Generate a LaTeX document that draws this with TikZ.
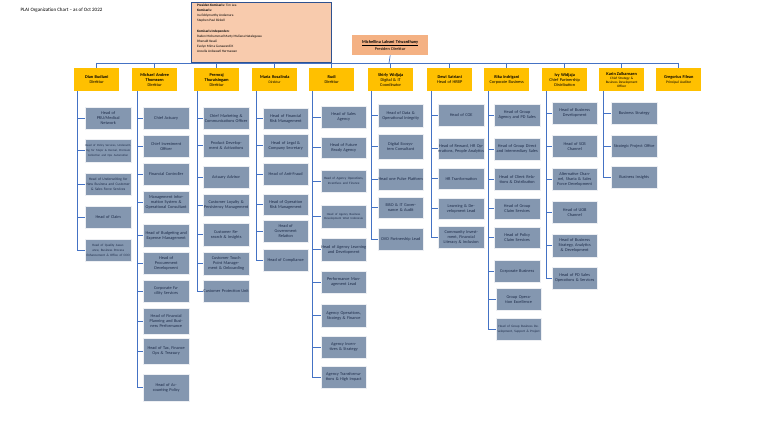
\documentclass[tikz,border=0pt]{standalone}
\usepackage{fontspec}
\setmainfont{Carlito}
\definecolor{ln}{HTML}{4472C4}
\definecolor{kf}{HTML}{8497B0}
\definecolor{kt}{HTML}{1F2D4A}
\definecolor{yl}{HTML}{FFC000}
\definecolor{pc}{HTML}{F8CBAD}
\definecolor{pd}{HTML}{F4B183}
\definecolor{bd}{HTML}{2F528F}
\tikzset{
 kid/.style={fill=kf,draw=white!85!kf,line width=0.4pt,inner sep=0pt,align=center,text=kt,font=\fontsize{4.3}{4.9}\selectfont},
 dir/.style={fill=yl,inner sep=0pt,align=center,text=black,font=\fontsize{4.3}{5}\selectfont,minimum width=45pt,minimum height=23pt,text width=45pt,anchor=north west},
 wire/.style={draw=ln,line width=0.7pt}
}
\newcommand\kid[6]{\node[kid,anchor=north west,minimum width=#3pt,text width=#3pt,minimum height=#5pt] (#1) at (#2,#4) {#6};}
\newcommand\tk[2]{\draw[wire] (#1 |- #2.west) -- (#2.west);}
\begin{document}
\begin{tikzpicture}[x=1pt,y=-1pt]
\useasboundingbox[fill=white] (0,0) rectangle (768,433);
\node[anchor=west,font=\fontsize{5}{6}\selectfont] (title) at (17,10) {PLAI Organization Chart -- as of Oct 2022};
% commissioners
\node[fill=pc,draw=bd,line width=0.7pt,anchor=north west,minimum width=140pt,minimum height=60pt,inner sep=0pt] (kom) at (191,2) {};
\node[anchor=north west,align=left,font=\fontsize{3.4}{5.1}\selectfont,inner sep=0pt] (komt) at (197,4) {\textbf{Presiden Komisaris:} Tim Lea\\ \textbf{Komisaris:}\\ Ira Eddymurthy Andamara\\ Stephen Paul Bickell\\[5.1pt] \textbf{Komisaris Independen:}\\ Raden Mohammad Marty Muliana Natalegawa\\ Rhenald Kasali\\ Evelyn Mirna Gunawardi K\\ Ancella Anitawati Hermawan};
\node[fill=pd,anchor=north west,minimum width=76pt,minimum height=20pt,text width=76pt,inner sep=0pt,align=center,font=\fontsize{4.3}{5.2}\selectfont] (pres) at (352,35) {\underline{\textbf{Michellina Laksmi Triwardhany}}\\Presiden Direktur};
% directors
\node[dir] (d1) at (74,68) {\textbf{Dian Budiani}\\Direktur};
\node[dir] (d2) at (132,68) {\textbf{Michael Andree}\\\textbf{Thomssen}\\Direktur};
\node[dir] (d3) at (194,68) {\textbf{Premraj}\\\textbf{Thuraisingam}\\Direktur};
\node[dir] (d4) at (252,68) {\textbf{Maria Rosalinda}\\{\fontsize{3.6}{4.3}\selectfont Direktur}};
\node[dir] (d5) at (309,68) {\textbf{Rudi}\\Direktur};
\node[dir] (d6) at (368,68) {\textbf{Shirly Widjaja}\\Digital \& IT\\Coordinator};
\node[dir] (d7) at (427,68) {\textbf{Dewi Satriani}\\Head of HRBP};
\node[dir] (d8) at (484,68) {\textbf{Rika Indrigani}\\Corporate Business};
\node[dir] (d9) at (542,68) {\textbf{Ivy Widjaja}\\Chief Partnership\\Distribution};
\node[dir,font=\fontsize{3.4}{4.1}\selectfont] (d10) at (599,68) {{\fontsize{4.3}{5}\selectfont\textbf{Karin Zulkarnaen}}\\Chief Strategy \&\\Business Development\\Officer};
\node[dir] (d11) at (656,68) {\textbf{Gregorius Filean}\\{\fontsize{3.6}{4.3}\selectfont Principal Auditor}};
\coordinate (bus) at (389,63);
\draw[wire] (d1.north |- bus) -- (d11.north |- bus);
\foreach \dd in {d1,d2,d3,d4,d5,d6,d7,d8,d9,d10,d11} {\draw[wire] (\dd.north |- bus) -- (\dd.north);}
\draw[wire] (pres.south) -- (bus);
% column 1
\kid{a1}{85}{46}{107}{22}{Head of\\PRU/Medical\\Network}
\kid{a2}{85}{46}{139}{23}{{\fontsize{3}{3.6}\selectfont Head of Policy Services, Underwriting for Major \& Revival, Premium Collection and Ops Automation}}
\kid{a3}{85}{46}{173}{22}{{\fontsize{3.6}{4.3}\selectfont Head of Underwriting for New Business and Customer \& Sales Force Services}}
\kid{a4}{85}{46}{206}{22}{Head of Claim}
\kid{a5}{85}{46}{239}{22}{{\fontsize{3.3}{4}\selectfont Head of Quality Assurance, Business Process Enhancement \& Office of COO}}
\coordinate (t1) at (77,91);
\draw[wire] (t1) |- (a5.west);
\foreach \cc in {a1,a2,a3,a4} {\tk{t1}{\cc}}
% column 2
\kid{b1}{143}{46}{107}{22}{Chief Actuary}
\kid{b2}{143}{46}{135}{22}{Chief Investment\\Officer}
\kid{b3}{143}{46}{163}{22}{Financial Controller}
\kid{b4}{143}{46}{191}{22}{Management Information System \& Operational Consultant}
\kid{b5}{143}{46}{224}{23}{Head of Budgeting and Expense Management}
\kid{b6}{143}{46}{252}{22}{Head of\\Procurement\\Development}
\kid{b7}{143}{46}{280}{22}{Corporate Facility Services}
\kid{b8}{143}{46}{308}{26}{Head of Financial Planning and Business Performance}
\kid{b9}{143}{46}{338}{26}{Head of Tax, Finance Ops \& Treasury}
\kid{b10}{143}{46}{374}{27}{Head of Accounting Policy}
\coordinate (t2) at (137,91);
\draw[wire] (t2) |- (b10.west);
\foreach \cc in {b1,b2,b3,b4,b5,b6,b7,b8,b9} {\tk{t2}{\cc}}
% column 3
\kid{c1}{203}{46}{107}{22}{Chief Marketing \& Communications Officer}
\kid{c2}{203}{46}{134}{23}{Product Development \& Activations}
\kid{c3}{203}{46}{166}{22}{Actuary Advisor}
\kid{c4}{203}{46}{194}{22}{Customer Loyalty \& Persistency Management}
\kid{c5}{203}{46}{223}{23}{Customer Research \& Insights}
\kid{c6}{203}{46}{252}{23}{Customer Touch Point Management \& Onboarding}
\kid{c7}{203}{46}{280}{22}{Customer Protection Unit}
\coordinate (t3) at (197,91);
\draw[wire] (t3) |- (c7.west);
\foreach \cc in {c1,c2,c3,c4,c5,c6} {\tk{t3}{\cc}}
% column 4
\kid{e1}{263}{45}{108}{21}{Head of Financial Risk Management}
\kid{e2}{263}{45}{134}{23}{Head of Legal \& Company Secretary}
\kid{e3}{263}{45}{163}{22}{Head of Anti-Fraud}
\kid{e4}{263}{45}{194}{21}{Head of Operation Risk Management}
\kid{e5}{263}{45}{220}{22}{Head of\\Government\\Relation}
\kid{e6}{263}{45}{249}{22}{Head of Compliance}
\coordinate (t4) at (256,91);
\draw[wire] (t4) |- (e6.west);
\foreach \cc in {e1,e2,e3,e4,e5} {\tk{t4}{\cc}}
% column 5
\kid{f1}{321}{45}{106}{22}{Head of Sales\\Agency}
\kid{f2}{321}{45}{137}{21}{Head of Future Ready Agency}
\kid{f3}{321}{45}{170}{22}{{\fontsize{3.3}{4}\selectfont Head of Agency Operations, Incentives and Finance}}
\kid{f4}{321}{45}{205}{23}{{\fontsize{3.1}{3.8}\selectfont Head of Agency Business Development West Indonesia}}
\kid{f5}{321}{45}{238}{23}{Head of Agency Learning and Development}
\kid{f6}{321}{45}{271}{22}{Performance Management Lead}
\kid{f7}{321}{45}{304}{23}{Agency Operations, Strategy \& Finance}
\kid{f8}{321}{45}{336}{22}{Agency Incentives \& Strategy}
\kid{f9}{321}{45}{366}{22}{Agency Transformations \& High Impact}
\coordinate (t5) at (312,91);
\draw[wire] (t5) |- (f9.west);
\foreach \cc in {f1,f2,f3,f4,f5,f6,f7,f8} {\tk{t5}{\cc}}
% column 6
\kid{g1}{378}{45}{104}{23}{Head of Data \& Operational Integrity}
\kid{g2}{378}{45}{134}{25}{Digital Ecosystem Consultant}
\kid{g3}{378}{45}{168}{22}{Head one Pulse Platform}
\kid{g4}{378}{45}{197}{21}{BISO \& IT Governance \& Audit}
\kid{g5}{378}{45}{228}{22}{OVO Partnership Lead}
\coordinate (t6) at (371,91);
\draw[wire] (t6) |- (g5.west);
\foreach \cc in {g1,g2,g3,g4} {\tk{t6}{\cc}}
% column 7
\kid{h1}{438}{46}{104}{22}{Head of COE}
\kid{h2}{438}{46}{138}{21}{Head of Reward, HR Operations, People Analytics}
\kid{h3}{438}{46}{168}{21}{HR Tranformation}
\kid{h4}{438}{46}{198}{21}{Learning \& Development Lead}
\kid{h5}{438}{46}{226}{22}{Community Investment, Financial Literacy \& Inclusion}
\coordinate (t7) at (431,91);
\draw[wire] (t7) |- (h5.west);
\foreach \cc in {h1,h2,h3,h4} {\tk{t7}{\cc}}
% column 8
\kid{i1}{494}{46}{104}{22}{Head of Group Agency and PD Sales}
\kid{i2}{494}{46}{138}{22}{Head of Group Direct and Intermediary Sales}
\kid{i3}{494}{46}{168}{22}{Head of Client Relations \& Distribution}
\kid{i4}{494}{46}{198}{21}{Head of Group Claim Services}
\kid{i5}{494}{46}{227}{21}{Head of Policy Claim Services}
\kid{i6}{494}{46}{260}{22}{Corporate Business}
\kid{i7}{496}{45}{288}{22}{Group Operation Excellence}
\kid{i8}{496}{45}{318}{22}{{\fontsize{3.3}{4}\selectfont Head of Group Business Development, Support \& Project}}
\coordinate (t8) at (488,91);
\draw[wire] (t8) |- (i8.west);
\foreach \cc in {i1,i2,i3,i4,i5,i6,i7} {\tk{t8}{\cc}}
% column 9
\kid{j1}{552}{45}{102}{22}{Head of Business Development}
\kid{j2}{552}{45}{135}{22}{Head of SCB\\Channel}
\kid{j3}{552}{45}{168}{22}{Alternative Channel, Sharia \& Sales Force Development}
\kid{j4}{552}{45}{201}{22}{Head of UOB\\Channel}
\kid{j5}{552}{45}{234}{23}{Head of Business Strategy, Analytics \& Development}
\kid{j6}{552}{45}{267}{22}{Head of PD Sales Operations \& Services}
\coordinate (t9) at (546,91);
\draw[wire] (t9) |- (j6.west);
\foreach \cc in {j1,j2,j3,j4,j5} {\tk{t9}{\cc}}
% column 10
\kid{k1}{611}{46}{102}{22}{Business Strategy}
\kid{k2}{611}{46}{135}{22}{Strategic Project Office}
\kid{k3}{611}{46}{166}{22}{Business Insights}
\coordinate (t10) at (603,91);
\draw[wire] (t10) |- (k3.west);
\foreach \cc in {k1,k2} {\tk{t10}{\cc}}
\end{tikzpicture}
\end{document}
